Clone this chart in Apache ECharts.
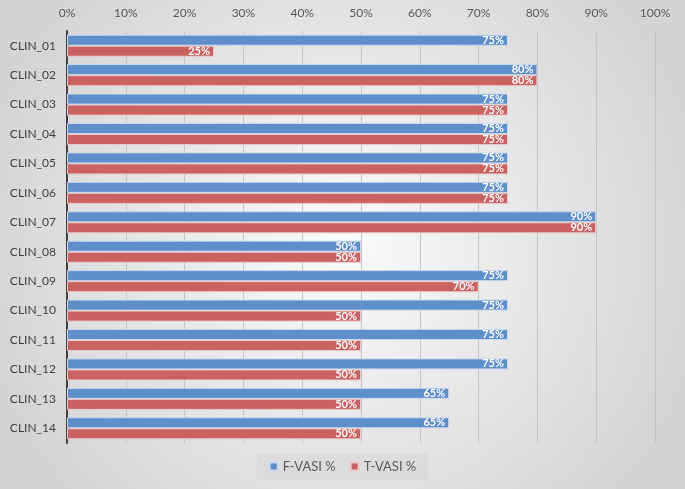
<!DOCTYPE html>
<html><head><meta charset="utf-8">
<script src="https://cdn.jsdelivr.net/npm/echarts@6/dist/echarts.min.js"></script>
<style>html,body{margin:0;padding:0;}#c{width:685px;height:489px;}</style>
</head><body><div id="c"></div>
<script>
var categories = ['CLIN_01','CLIN_02','CLIN_03','CLIN_04','CLIN_05','CLIN_06','CLIN_07','CLIN_08','CLIN_09','CLIN_10','CLIN_11','CLIN_12','CLIN_13','CLIN_14'];
var fVasi = [75,80,75,75,75,75,90,50,75,75,75,75,65,65];
var tVasi = [25,80,75,75,75,75,90,50,70,50,50,50,50,50];
var xTicks = [0,10,20,30,40,50,60,70,80,90,100];

var chart = echarts.init(document.getElementById('c'));
var font = 'Lato, "Open Sans", sans-serif';
var lbl = {show:true, position:'insideRight', color:'#fff', fontWeight:'bold', fontSize:11, fontFamily:font, formatter:'{c}%', distance:4};
chart.setOption({
  backgroundColor: {type:'radial', x:0.5, y:0.5, r:0.75, colorStops:[{offset:0,color:'#fbfbfb'},{offset:1,color:'#d4d4d4'}]},
  animation:false,
  grid:{left:67, right:30, top:31, bottom:46},
  legend:{bottom:9, left:'center', itemWidth:8, itemHeight:8, itemGap:14, icon:'rect',
    backgroundColor:'rgba(215,215,215,0.6)', padding:[7,12],
    textStyle:{color:'#595959', fontSize:13, fontFamily:font},
    data:['F-VASI %','T-VASI %']},
  xAxis:{type:'value', position:'top', min:0, max:100, interval:10,
    axisLabel:{formatter:function(v){return v+'%';}, color:'#595959', fontSize:12, fontFamily:font, margin:12},
    axisLine:{show:false}, axisTick:{show:false},
    splitLine:{lineStyle:{color:'#c4c4c4', width:1}}},
  yAxis:{type:'category', data:categories, inverse:true,
    axisLine:{show:true, lineStyle:{color:'#404040', width:2}}, axisTick:{show:false},
    axisLabel:{color:'#404040', fontSize:12, fontFamily:font, margin:11}},
  series:[
    {name:'F-VASI %', type:'bar', data:fVasi, barGap:'0%', barCategoryGap:'25%',
      itemStyle:{color:'#5f8fca', borderColor:'#c9d9ee', borderWidth:1}, label:lbl},
    {name:'T-VASI %', type:'bar', data:tVasi,
      itemStyle:{color:'#c96261', borderColor:'#eccaca', borderWidth:1}, label:lbl}
  ]
});
</script></body></html>
